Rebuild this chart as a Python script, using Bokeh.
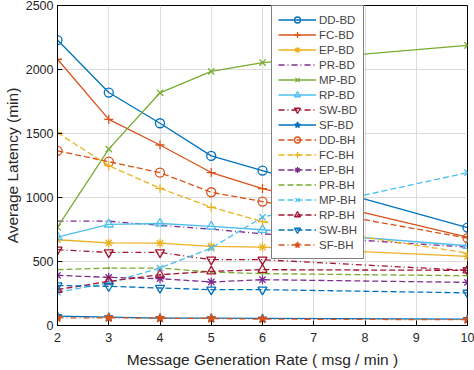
from bokeh.plotting import figure
from bokeh.models import FixedTicker, Range1d
from bokeh.embed import file_html
from bokeh.resources import INLINE

x = [2, 3, 4, 5, 6, 10]

names = ["DD-BD", "FC-BD", "EP-BD", "PR-BD", "MP-BD", "RP-BD", "SW-BD", "SF-BD",
         "DD-BH", "FC-BH", "EP-BH", "PR-BH", "MP-BH", "RP-BH", "SW-BH", "SF-BH"]

dd_bd = [2230, 1820, 1580, 1325, 1210, 765]
fc_bd = [2080, 1610, 1410, 1195, 1070, 690]
ep_bd = [670, 645, 643, 618, 613, 540]
pr_bd = [815, 815, 782, 753, 716, 612]
mp_bd = [768, 1378, 1818, 1985, 2054, 2188]
rp_bd = [691, 790, 797, 774, 748, 623]
sw_bd = [592, 571, 571, 514, 514, 431]
sf_bd = [73, 65, 57, 57, 55, 50]
dd_bh = [1365, 1280, 1194, 1041, 968, 683]
fc_bh = [1506, 1249, 1072, 924, 812, 566]
ep_bh = [392, 376, 366, 340, 358, 337]
pr_bh = [436, 449, 449, 418, 405, 389]
mp_bh = [260, 332, 449, 605, 846, 1194]
rp_bh = [280, 345, 397, 423, 436, 431]
sw_bh = [312, 306, 293, 280, 280, 255]
sf_bh = [60, 60, 57, 55, 50, 45]

series = [dd_bd, fc_bd, ep_bd, pr_bd, mp_bd, rp_bd, sw_bd, sf_bd,
          dd_bh, fc_bh, ep_bh, pr_bh, mp_bh, rp_bh, sw_bh, sf_bh]

C = ["#0072BD", "#D95319", "#EDB120", "#7E2F8E", "#77AC30", "#4DBEEE", "#A2142F"]
colors = [C[0], C[1], C[2], C[3], C[4], C[5], C[6], C[0],
          C[1], C[2], C[3], C[4], C[5], C[6], C[0], C[1]]
SOLID, DASH, DASHDOT = "solid", "6 3", "6 3 1 3"
dashes = [SOLID, SOLID, SOLID, DASHDOT, SOLID, SOLID, DASHDOT, SOLID,
          DASH, DASH, DASH, DASH, DASH, DASH, DASH, DASHDOT]
markers = ["circle", "cross", "asterisk", None, "x", "triangle", "inverted_triangle", "star",
           "circle", "cross", "asterisk", "dot", "x", "triangle", "inverted_triangle", "star"]
filled = [False, False, False, False, False, False, False, True,
          False, False, False, False, False, False, False, True]

p = figure(width=474, height=370, output_backend="svg", toolbar_location=None,
           x_range=Range1d(2, 10), y_range=Range1d(0, 2500),
           min_border_left=56, min_border_right=7, min_border_top=5, min_border_bottom=44)

for name, ys, col, dash, mk, fl in zip(names, series, colors, dashes, markers, filled):
    p.line(x, ys, line_color=col, line_width=1.3, line_dash=dash, legend_label=name)
    if mk is not None:
        size = 9 if mk != "dot" else 10
        p.scatter(x, ys, marker=mk, size=size, line_color=col, line_width=1.3,
                  fill_color=col if fl or mk == "dot" else None, legend_label=name)

p.outline_line_color = "black"
p.outline_line_width = 1
p.xaxis.ticker = FixedTicker(ticks=list(range(2, 11)))
p.yaxis.ticker = FixedTicker(ticks=[0, 500, 1000, 1500, 2000, 2500])
for ax in (p.xaxis, p.yaxis):
    ax.major_tick_in = 5
    ax.major_tick_out = 0
    ax.minor_tick_line_color = None
    ax.axis_line_color = "black"
    ax.major_tick_line_color = "black"
    ax.major_label_text_font = "Liberation Sans"
    ax.major_label_text_font_size = "12.5px"
    ax.major_label_text_color = "#262626"
    ax.axis_label_text_font = "Liberation Sans"
    ax.axis_label_text_font_size = "15.5px"
    ax.axis_label_text_font_style = "normal"
    ax.axis_label_text_color = "#262626"
p.xaxis.axis_label = "Message Generation Rate ( msg / min )"
p.yaxis.axis_label = "Average Latency (min)"
p.xaxis.major_label_standoff = 7
p.yaxis.major_label_standoff = 4
p.xaxis.axis_label_standoff = 6
p.yaxis.axis_label_standoff = 2
p.grid.grid_line_color = "#dcdcdc"
p.grid.grid_line_width = 1

lg = p.legend[0]
lg.location = (214, 66)
lg.border_line_color = "black"
lg.border_line_width = 1
lg.background_fill_alpha = 1
lg.label_text_font = "Liberation Sans"
lg.label_text_font_size = "11.5px"
lg.glyph_width = 38
lg.glyph_height = 15
lg.label_height = 15
lg.spacing = 0
lg.padding = 6
lg.margin = 0
lg.label_standoff = 3

open("out.html", "w").write(file_html(p, INLINE))
